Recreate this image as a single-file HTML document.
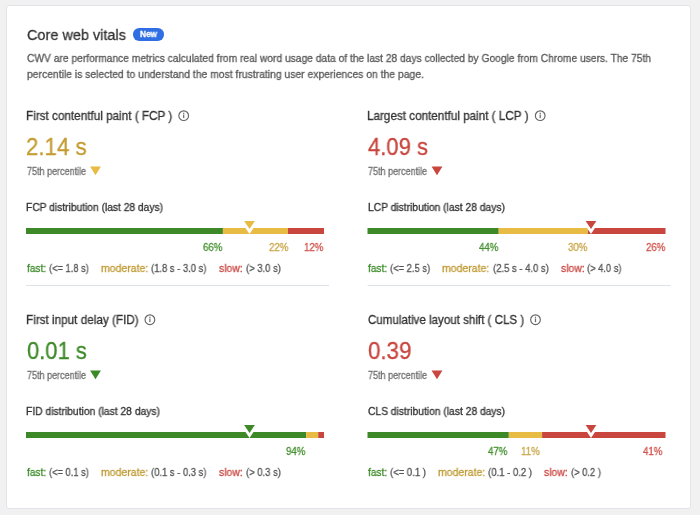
<!DOCTYPE html>
<html><head><meta charset="utf-8"><title>Core web vitals</title>
<style>
html,body{margin:0;padding:0;}
body{width:700px;height:515px;overflow:hidden;background:#f1f1f1;position:relative;font-family:"Liberation Sans",Arial,sans-serif;}
.card{position:absolute;left:6px;top:5px;width:683px;height:502px;background:#fff;border:1px solid #e1e5ea;border-radius:3px;}
.t{position:absolute;white-space:nowrap;line-height:1;transform-origin:0 50%;will-change:transform;-webkit-text-stroke:0.3px currentColor;}
.badge{position:absolute;left:133px;top:28px;width:31.3px;height:12.5px;border-radius:6.25px;background:#2f6fe3;}
svg{position:absolute;left:0;top:0;}
</style></head><body>
<div class="card"></div>
<div class="badge"></div>
<svg width="700" height="515" viewBox="0 0 700 515">
<rect x="26.00" y="228" width="196.91" height="6" fill="#3d8927"/>
<rect x="222.90" y="228" width="65.11" height="6" fill="#e8bb45"/>
<rect x="288.00" y="228" width="36.01" height="6" fill="#c9463f"/>
<polygon points="239.54,219.00 259.46,219.00 249.50,233.90" fill="#ffffff"/>
<polygon points="244.15,221.00 254.85,221.00 249.50,229.00" fill="#e8bb45"/>
<polygon points="90.10,166.40 100.90,166.40 95.50,175.20" fill="#e8bb45"/>
<rect x="26.00" y="285" width="303" height="1" fill="#dde3ea"/>
<circle cx="183.70" cy="115.70" r="4.85" fill="none" stroke="#666" stroke-width="1.15"/>
<rect x="183.10" y="114.50" width="1.2" height="3.6" fill="#666"/>
<rect x="183.10" y="112.70" width="1.2" height="1.2" fill="#666"/>
<rect x="367.50" y="228" width="131.21" height="6" fill="#3d8927"/>
<rect x="498.70" y="228" width="89.21" height="6" fill="#e8bb45"/>
<rect x="587.90" y="228" width="77.61" height="6" fill="#c9463f"/>
<polygon points="581.04,219.00 600.96,219.00 591.00,233.90" fill="#ffffff"/>
<polygon points="585.65,221.00 596.35,221.00 591.00,229.00" fill="#c9463f"/>
<polygon points="431.60,166.40 442.40,166.40 437.00,175.20" fill="#c9463f"/>
<rect x="367.50" y="285" width="303" height="1" fill="#dde3ea"/>
<circle cx="540.20" cy="115.70" r="4.85" fill="none" stroke="#666" stroke-width="1.15"/>
<rect x="539.60" y="114.50" width="1.2" height="3.6" fill="#666"/>
<rect x="539.60" y="112.70" width="1.2" height="1.2" fill="#666"/>
<rect x="26.00" y="432" width="280.21" height="6" fill="#3d8927"/>
<rect x="306.20" y="432" width="12.01" height="6" fill="#e8bb45"/>
<rect x="318.20" y="432" width="5.81" height="6" fill="#c9463f"/>
<polygon points="239.54,423.00 259.46,423.00 249.50,437.90" fill="#ffffff"/>
<polygon points="244.15,425.00 254.85,425.00 249.50,433.00" fill="#3d8927"/>
<polygon points="90.10,370.40 100.90,370.40 95.50,379.20" fill="#3d8927"/>
<circle cx="149.90" cy="319.70" r="4.85" fill="none" stroke="#666" stroke-width="1.15"/>
<rect x="149.30" y="318.50" width="1.2" height="3.6" fill="#666"/>
<rect x="149.30" y="316.70" width="1.2" height="1.2" fill="#666"/>
<rect x="367.50" y="432" width="141.31" height="6" fill="#3d8927"/>
<rect x="508.80" y="432" width="33.31" height="6" fill="#e8bb45"/>
<rect x="542.10" y="432" width="123.41" height="6" fill="#c9463f"/>
<polygon points="581.04,423.00 600.96,423.00 591.00,437.90" fill="#ffffff"/>
<polygon points="585.65,425.00 596.35,425.00 591.00,433.00" fill="#c9463f"/>
<polygon points="431.60,370.40 442.40,370.40 437.00,379.20" fill="#c9463f"/>
<circle cx="535.50" cy="319.70" r="4.85" fill="none" stroke="#666" stroke-width="1.15"/>
<rect x="534.90" y="318.50" width="1.2" height="3.6" fill="#666"/>
<rect x="534.90" y="316.70" width="1.2" height="1.2" fill="#666"/>
</svg>
<div class="t" style="left:27.00px;top:27.00px;font-size:15.30px;color:#333333;transform:scaleX(0.9455);">Core web vitals</div>
<div class="t" style="left:140.00px;top:30.01px;font-size:8.50px;color:#ffffff;font-weight:700;transform:scaleX(0.9739);">New</div>
<div class="t" style="left:26.80px;top:53.00px;font-size:11.00px;color:#585858;transform:scaleX(0.9315);">CWV are performance metrics calculated from real word usage data of the last 28 days collected by Google from Chrome users. The 75th</div>
<div class="t" style="left:26.80px;top:69.00px;font-size:11.00px;color:#585858;transform:scaleX(0.9420);">percentile is selected to understand the most frustrating user experiences on the page.</div>
<div class="t" style="left:26.14px;top:110.02px;font-size:12.20px;color:#333333;transform:scaleX(0.9615);">First contentful paint ( FCP )</div>
<div class="t" style="left:25.85px;top:136.00px;font-size:23.50px;color:#c39b2f;transform:scaleX(0.9475);">2.14 s</div>
<div class="t" style="left:26.60px;top:167.02px;font-size:10.30px;color:#6e6e6e;transform:scaleX(0.8744);">75th percentile</div>
<div class="t" style="left:26.40px;top:202.00px;font-size:10.50px;color:#333333;transform:scaleX(0.9754);">FCP distribution (last 28 days)</div>
<div class="t" style="left:203.00px;top:242.01px;font-size:10.90px;color:#44902f;transform:scaleX(0.8909);">66%</div>
<div class="t" style="left:268.50px;top:242.01px;font-size:10.90px;color:#c8a548;transform:scaleX(0.8909);">22%</div>
<div class="t" style="left:304.30px;top:242.01px;font-size:10.90px;color:#d0534c;transform:scaleX(0.8909);">12%</div>
<div class="t" style="left:26.60px;top:263.01px;font-size:10.90px;color:#3f8c2c;transform:scaleX(0.9293);">fast:</div>
<div class="t" style="left:48.80px;top:263.01px;font-size:10.90px;color:#555555;transform:scaleX(0.8547);">(&lt;= 1.8 s)</div>
<div class="t" style="left:101.10px;top:263.01px;font-size:10.90px;color:#bf9a33;transform:scaleX(0.9631);">moderate:</div>
<div class="t" style="left:151.40px;top:263.01px;font-size:10.90px;color:#555555;transform:scaleX(0.8642);">(1.8 s - 3.0 s)</div>
<div class="t" style="left:218.90px;top:263.01px;font-size:10.90px;color:#cc4a44;transform:scaleX(0.9562);">slow:</div>
<div class="t" style="left:245.70px;top:263.01px;font-size:10.90px;color:#555555;transform:scaleX(0.8682);">(&gt; 3.0 s)</div>
<div class="t" style="left:367.14px;top:110.02px;font-size:12.20px;color:#333333;transform:scaleX(0.9587);">Largest contentful paint ( LCP )</div>
<div class="t" style="left:367.80px;top:136.00px;font-size:23.50px;color:#c8453e;transform:scaleX(0.9373);">4.09 s</div>
<div class="t" style="left:368.10px;top:167.02px;font-size:10.30px;color:#6e6e6e;transform:scaleX(0.8744);">75th percentile</div>
<div class="t" style="left:367.90px;top:202.00px;font-size:10.50px;color:#333333;transform:scaleX(0.9787);">LCP distribution (last 28 days)</div>
<div class="t" style="left:478.90px;top:242.01px;font-size:10.90px;color:#44902f;transform:scaleX(0.8909);">44%</div>
<div class="t" style="left:568.30px;top:242.01px;font-size:10.90px;color:#c8a548;transform:scaleX(0.8909);">30%</div>
<div class="t" style="left:645.80px;top:242.01px;font-size:10.90px;color:#d0534c;transform:scaleX(0.8909);">26%</div>
<div class="t" style="left:367.50px;top:263.01px;font-size:10.90px;color:#3f8c2c;transform:scaleX(0.9293);">fast:</div>
<div class="t" style="left:389.70px;top:263.01px;font-size:10.90px;color:#555555;transform:scaleX(0.8612);">(&lt;= 2.5 s)</div>
<div class="t" style="left:442.30px;top:263.01px;font-size:10.90px;color:#bf9a33;transform:scaleX(0.9631);">moderate:</div>
<div class="t" style="left:492.60px;top:263.01px;font-size:10.90px;color:#555555;transform:scaleX(0.8705);">(2.5 s - 4.0 s)</div>
<div class="t" style="left:560.50px;top:263.01px;font-size:10.90px;color:#cc4a44;transform:scaleX(0.9562);">slow:</div>
<div class="t" style="left:587.30px;top:263.01px;font-size:10.90px;color:#555555;transform:scaleX(0.8581);">(&gt; 4.0 s)</div>
<div class="t" style="left:26.14px;top:314.02px;font-size:12.20px;color:#333333;transform:scaleX(0.9612);">First input delay (FID)</div>
<div class="t" style="left:26.70px;top:340.00px;font-size:23.50px;color:#3d8a28;transform:scaleX(0.9341);">0.01 s</div>
<div class="t" style="left:26.60px;top:371.02px;font-size:10.30px;color:#6e6e6e;transform:scaleX(0.8744);">75th percentile</div>
<div class="t" style="left:26.40px;top:406.00px;font-size:10.50px;color:#333333;transform:scaleX(0.9812);">FID distribution (last 28 days)</div>
<div class="t" style="left:286.40px;top:446.01px;font-size:10.90px;color:#44902f;transform:scaleX(0.8909);">94%</div>
<div class="t" style="left:26.60px;top:467.01px;font-size:10.90px;color:#3f8c2c;transform:scaleX(0.9293);">fast:</div>
<div class="t" style="left:48.80px;top:467.01px;font-size:10.90px;color:#555555;transform:scaleX(0.8547);">(&lt;= 0.1 s)</div>
<div class="t" style="left:101.10px;top:467.01px;font-size:10.90px;color:#bf9a33;transform:scaleX(0.9631);">moderate:</div>
<div class="t" style="left:151.40px;top:467.01px;font-size:10.90px;color:#555555;transform:scaleX(0.8642);">(0.1 s - 0.3 s)</div>
<div class="t" style="left:218.90px;top:467.01px;font-size:10.90px;color:#cc4a44;transform:scaleX(0.9562);">slow:</div>
<div class="t" style="left:245.70px;top:467.01px;font-size:10.90px;color:#555555;transform:scaleX(0.8682);">(&gt; 0.3 s)</div>
<div class="t" style="left:368.10px;top:314.02px;font-size:12.20px;color:#333333;transform:scaleX(0.9488);">Cumulative layout shift ( CLS )</div>
<div class="t" style="left:368.40px;top:340.00px;font-size:23.50px;color:#c8453e;transform:scaleX(0.9492);">0.39</div>
<div class="t" style="left:368.10px;top:371.02px;font-size:10.30px;color:#6e6e6e;transform:scaleX(0.8744);">75th percentile</div>
<div class="t" style="left:367.90px;top:406.00px;font-size:10.50px;color:#333333;transform:scaleX(0.9787);">CLS distribution (last 28 days)</div>
<div class="t" style="left:487.90px;top:446.01px;font-size:10.90px;color:#44902f;transform:scaleX(0.8909);">47%</div>
<div class="t" style="left:521.30px;top:446.01px;font-size:10.90px;color:#c8a548;transform:scaleX(0.8965);">11%</div>
<div class="t" style="left:642.90px;top:446.01px;font-size:10.90px;color:#d0534c;transform:scaleX(0.8909);">41%</div>
<div class="t" style="left:367.50px;top:467.01px;font-size:10.90px;color:#3f8c2c;transform:scaleX(0.9293);">fast:</div>
<div class="t" style="left:389.70px;top:467.01px;font-size:10.90px;color:#555555;transform:scaleX(0.8733);">(&lt;= 0.1 )</div>
<div class="t" style="left:437.70px;top:467.01px;font-size:10.90px;color:#bf9a33;transform:scaleX(0.9631);">moderate:</div>
<div class="t" style="left:488.00px;top:467.01px;font-size:10.90px;color:#555555;transform:scaleX(0.8768);">(0.1 - 0.2 )</div>
<div class="t" style="left:543.90px;top:467.01px;font-size:10.90px;color:#cc4a44;transform:scaleX(0.9562);">slow:</div>
<div class="t" style="left:570.70px;top:467.01px;font-size:10.90px;color:#555555;transform:scaleX(0.8602);">(&gt; 0.2 )</div>
</body></html>
